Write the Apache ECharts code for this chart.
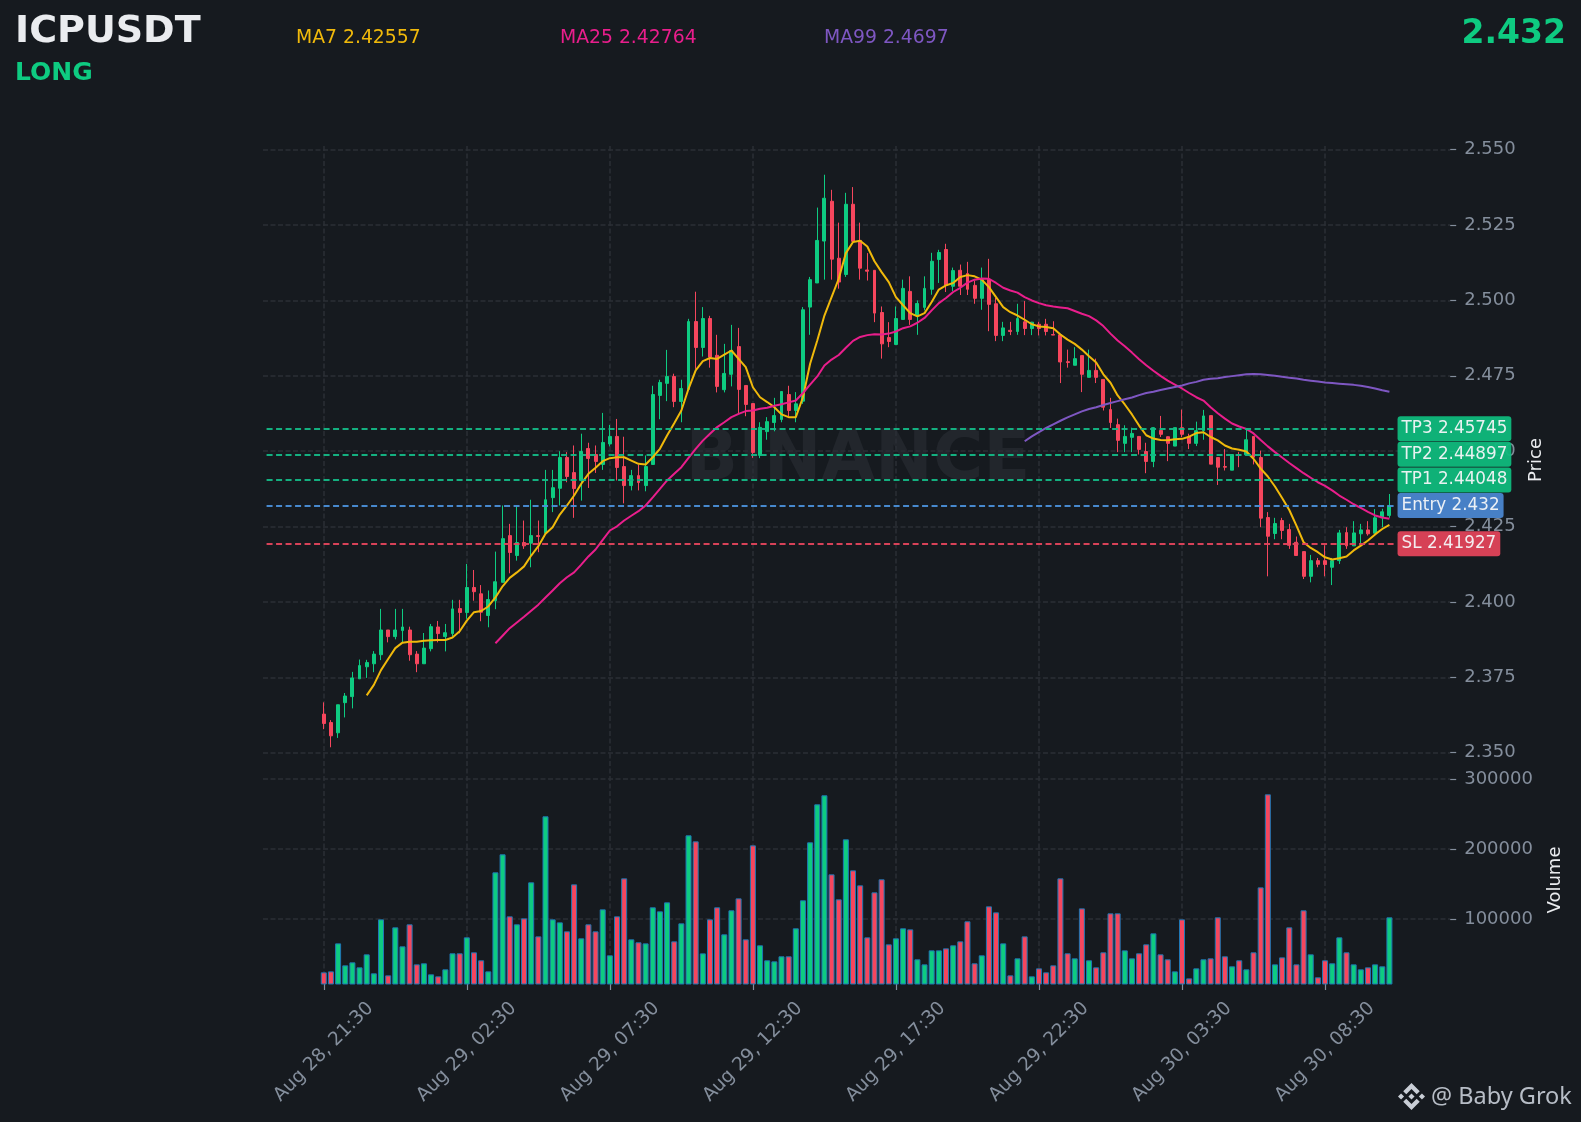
<!DOCTYPE html>
<html>
<head>
<meta charset="utf-8">
<style>html,body{margin:0;padding:0;background:#161a1f}#c{width:1581px;height:1122px}</style>
<script src="https://cdn.jsdelivr.net/npm/echarts@6/dist/echarts.min.js"></script>
</head>
<body>
<div id="c"></div>
<script>
const tickLabels = ["Aug 28, 21:30","Aug 29, 02:30","Aug 29, 07:30","Aug 29, 12:30","Aug 29, 17:30","Aug 29, 22:30","Aug 30, 03:30","Aug 30, 08:30"];
const opens = [2.3628,2.3600,2.3566,2.3666,2.3686,2.3745,2.3785,2.3795,2.3825,2.3907,2.3885,2.3905,2.3907,2.3827,2.3795,2.3845,2.3917,2.3885,2.3895,2.3978,2.3965,2.4048,2.4027,2.3955,2.4004,2.4065,2.4220,2.4154,2.4197,2.4195,2.4220,2.4228,2.4346,2.4377,2.4479,2.4429,
2.4403,2.4509,2.4489,2.4456,2.4524,2.4549,2.4449,2.4386,2.4419,2.4386,2.4456,2.4685,2.4725,2.4748,2.4665,2.4705,2.4930,2.4844,2.4940,2.4818,2.4704,2.4755,2.4847,2.4718,2.4658,2.4486,2.4565,2.4595,2.4605,2.4688,2.4635,2.4666,2.4978,2.5058,2.5197,2.5329,2.5140,2.5086,2.5319,2.5199,2.5101,2.5100,2.4960,2.4877,2.4854,2.4937,2.5030,2.4950,2.4977,2.5037,2.5136,2.5169,2.5047,2.5100,2.5089,2.5050,2.5007,2.5070,2.4989,2.4884,2.4901,2.4897,2.4929,2.4907,2.4921,2.4921,2.4887,2.4886,2.4797,2.4785,2.4817,2.4745,2.4768,2.4738,2.4638,2.4588,2.4526,2.4546,2.4549,2.4499,2.4466,2.4569,2.4548,2.4517,2.4578,2.4548,2.4526,2.4568,2.4618,2.4479,2.4449,2.4437,2.4489,2.4488,2.4549,2.4479,2.4280,2.4227,2.4270,2.4240,2.4198,2.4167,2.4085,2.4137,2.4137,2.4115,2.4137,2.4230,2.4186,2.4226,2.4239,2.4228,2.4279,2.4287];
const highs = [2.3667,2.3608,2.3659,2.3698,2.3768,2.3809,2.3808,2.3837,2.3977,2.3907,2.3977,2.3977,2.3918,2.3837,2.3897,2.3927,2.3937,2.3927,2.4007,2.4007,2.4126,2.4106,2.4056,2.4038,2.4167,2.4320,2.4259,2.4320,2.4270,2.4339,2.4270,2.4438,2.4438,2.4500,2.4497,2.4519,
2.4558,2.4528,2.4519,2.4627,2.4587,2.4607,2.4548,2.4438,2.4456,2.4486,2.4717,2.4737,2.4836,2.4757,2.4737,2.4939,2.5029,2.4978,2.4949,2.4886,2.4856,2.4919,2.4909,2.4718,2.4658,2.4596,2.4613,2.4677,2.4699,2.4717,2.4696,2.4978,2.5078,2.5308,2.5417,2.5367,2.5258,2.5357,2.5376,2.5258,2.5157,2.5100,2.4980,2.4928,2.4980,2.5069,2.5080,2.5000,2.5080,2.5158,2.5168,2.5188,2.5109,2.5119,2.5128,2.5066,2.5109,2.5138,2.5009,2.4929,2.4929,2.4989,2.4998,2.4929,2.4929,2.4939,2.4931,2.4886,2.4837,2.4845,2.4817,2.4837,2.4807,2.4738,2.4677,2.4608,2.4586,2.4578,2.4549,2.4528,2.4579,2.4617,2.4549,2.4578,2.4638,2.4558,2.4598,2.4637,2.4618,2.4479,2.4507,2.4489,2.4497,2.4571,2.4549,2.4502,2.4298,2.4279,2.4279,2.4259,2.4217,2.4167,2.4156,2.4146,2.4188,2.4146,2.4239,2.4248,2.4268,2.4259,2.4268,2.4308,2.4309,2.4358];
const lows = [2.3578,2.3518,2.3549,2.3617,2.3647,2.3745,2.3748,2.3767,2.3807,2.3866,2.3876,2.3866,2.3805,2.3767,2.3795,2.3836,2.3866,2.3836,2.3885,2.3896,2.3944,2.4004,2.3936,2.3916,2.3976,2.4065,2.4095,2.4137,2.4176,2.4115,2.4165,2.4226,2.4298,2.4320,2.4397,2.4279,
2.4336,2.4378,2.4428,2.4438,2.4516,2.4403,2.4327,2.4370,2.4370,2.4367,2.4456,2.4606,2.4666,2.4646,2.4596,2.4705,2.4773,2.4814,2.4777,2.4695,2.4695,2.4715,2.4624,2.4616,2.4478,2.4477,2.4538,2.4566,2.4596,2.4616,2.4596,2.4657,2.4886,2.5058,2.5069,2.5069,2.5039,2.5078,2.5192,2.5069,2.5066,2.4928,2.4807,2.4845,2.4854,2.4937,2.4919,2.4886,2.4967,2.5019,2.5058,2.5028,2.5031,2.5018,2.5018,2.4989,2.4969,2.4898,2.4865,2.4865,2.4885,2.4886,2.4885,2.4885,2.4884,2.4884,2.4885,2.4726,2.4777,2.4785,2.4696,2.4745,2.4726,2.4635,2.4577,2.4497,2.4497,2.4497,2.4489,2.4427,2.4447,2.4547,2.4467,2.4517,2.4547,2.4507,2.4517,2.4538,2.4457,2.4388,2.4436,2.4437,2.4447,2.4488,2.4456,2.4248,2.4085,2.4208,2.4208,2.4176,2.4154,2.4076,2.4065,2.4115,2.4085,2.4056,2.4126,2.4176,2.4186,2.4186,2.4220,2.4228,2.4248,2.4279];
const closes = [2.3597,2.3556,2.3659,2.3688,2.3748,2.3789,2.3799,2.3827,2.3907,2.3885,2.3907,2.3917,2.3825,2.3795,2.3847,2.3918,2.3895,2.3898,2.3977,2.3965,2.4048,2.4034,2.3966,2.4008,2.4067,2.4210,2.4164,2.4197,2.4186,2.4220,2.4217,2.4339,2.4379,2.4479,2.4416,2.4376,
2.4499,2.4476,2.4466,2.4529,2.4549,2.4446,2.4386,2.4419,2.4396,2.4449,2.4688,2.4728,2.4748,2.4665,2.4708,2.4930,2.4844,2.4940,2.4812,2.4715,2.4758,2.4834,2.4705,2.4655,2.4496,2.4579,2.4598,2.4618,2.4698,2.4635,2.4657,2.4969,2.5069,2.5199,2.5339,2.5137,2.5061,2.5319,2.5196,2.5107,2.5097,2.4958,2.4856,2.4864,2.4940,2.5040,2.4937,2.4990,2.5040,2.5130,2.5159,2.5050,2.5099,2.5047,2.5037,2.5007,2.5069,2.4987,2.4884,2.4909,2.4897,2.4940,2.4907,2.4928,2.4907,2.4897,2.4885,2.4796,2.4794,2.4807,2.4755,2.4768,2.4745,2.4646,2.4595,2.4536,2.4549,2.4559,2.4506,2.4466,2.4578,2.4556,2.4526,2.4578,2.4556,2.4526,2.4568,2.4617,2.4457,2.4447,2.4447,2.4489,2.4487,2.4538,2.4480,2.4278,2.4218,2.4260,2.4237,2.4188,2.4154,2.4085,2.4137,2.4125,2.4124,2.4137,2.4229,2.4186,2.4229,2.4239,2.4226,2.4279,2.4299,2.4320];
const volumes = [23800,25200,65200,33800,38100,30950,49500,22400,99500,19500,88100,60950,92400,35200,36700,20950,18100,28100,51000,51000,73800,52400,41000,25200,166700,192400,103800,92400,100950,152400,75200,246700,99500,95200,82400,149500,72400,92400,82400,113800,48100,103800,158100,70950,66700,65200,116700,110950,123800,68100,93800,219500,210900,50900,99500,116700,78100,112400,129500,70950,205200,62400,41000,39500,46700,46700,86700,126700,209500,263800,276700,163800,128100,213800,169500,148100,73800,138100,156700,63800,72400,86700,85200,42400,35200,55200,55200,58100,62400,68100,96700,36700,48100,118100,109500,65200,19500,43800,75200,18100,29500,23800,33800,158100,51000,43800,115200,41000,30950,52400,108100,108100,55200,43800,51000,63800,79500,49500,42400,25200,99500,15200,29500,42400,43800,102400,46700,32400,41000,28100,52400,145200,278100,35200,45200,88100,35200,112400,49500,16700,41000,36700,73800,52400,35200,28100,30950,35200,32400,102400];
const ma7 = [null,null,null,null,null,null,2.3690,2.3725,2.3774,2.3811,2.3847,2.3865,2.3868,2.3868,2.3871,2.3873,2.3874,2.3874,2.3882,2.3903,2.3938,2.3966,2.3970,2.3985,2.4015,2.4052,2.4080,2.4098,2.4118,2.4154,2.4185,2.4226,2.4248,2.4290,2.4320,2.4353,
2.4392,2.4425,2.4445,2.4467,2.4477,2.4480,2.4480,2.4469,2.4458,2.4456,2.4480,2.4508,2.4552,2.4593,2.4635,2.4707,2.4768,2.4799,2.4809,2.4806,2.4820,2.4834,2.4806,2.4779,2.4712,2.4679,2.4663,2.4646,2.4622,2.4613,2.4613,2.4679,2.4790,2.4867,2.4950,2.5011,2.5072,2.5157,2.5194,2.5198,2.5179,2.5130,2.5094,2.5061,2.5011,2.4984,2.4958,2.4947,2.4958,2.4995,2.5036,2.5050,2.5058,2.5078,2.5084,2.5080,2.5069,2.5044,2.5011,2.4978,2.4961,2.4950,2.4936,2.4921,2.4914,2.4912,2.4908,2.4887,2.4870,2.4856,2.4837,2.4815,2.4794,2.4755,2.4727,2.4685,2.4655,2.4622,2.4585,2.4553,2.4542,2.4537,2.4536,2.4540,2.4541,2.4548,2.4560,2.4563,2.4547,2.4536,2.4519,2.4509,2.4505,2.4499,2.4475,2.4442,2.4416,2.4383,2.4345,2.4305,2.4253,2.4198,2.4179,2.4165,2.4148,2.4141,2.4145,2.4151,2.4171,2.4187,2.4204,2.4224,2.4242,2.4256];
const ma25 = [null,null,null,null,null,null,null,null,null,null,null,null,null,null,null,null,null,null,null,null,null,null,null,null,2.3863,2.3888,2.3913,2.3932,2.3951,2.3971,2.3991,2.4015,2.4038,2.4062,2.4082,2.4098,
2.4124,2.4151,2.4174,2.4206,2.4237,2.4251,2.4270,2.4286,2.4301,2.4320,2.4347,2.4375,2.4403,2.4425,2.4447,2.4478,2.4508,2.4535,2.4558,2.4580,2.4596,2.4613,2.4624,2.4633,2.4635,2.4641,2.4644,2.4651,2.4656,2.4662,2.4668,2.4693,2.4721,2.4748,2.4784,2.4804,2.4819,2.4843,2.4866,2.4879,2.4885,2.4888,2.4887,2.4890,2.4897,2.4908,2.4914,2.4926,2.4942,2.4967,2.4991,2.5008,2.5028,2.5042,2.5059,2.5069,2.5073,2.5072,2.5058,2.5042,2.5033,2.5026,2.5011,2.5000,2.4991,2.4984,2.4980,2.4977,2.4974,2.4965,2.4956,2.4948,2.4934,2.4915,2.4890,2.4867,2.4848,2.4827,2.4805,2.4785,2.4767,2.4750,2.4734,2.4721,2.4708,2.4693,2.4679,2.4668,2.4646,2.4626,2.4608,2.4592,2.4582,2.4574,2.4559,2.4537,2.4516,2.4497,2.4479,2.4461,2.4444,2.4427,2.4412,2.4397,2.4385,2.4370,2.4353,2.4339,2.4324,2.4312,2.4299,2.4287,2.4280,2.4276];
const ma99Start = 98;
const ma99Values = [2.4533,2.4549,2.4563,2.4577,2.4589,2.4601,2.4612,2.4622,2.4632,2.4640,2.4646,2.4653,2.4660,2.4666,2.4672,2.4678,2.4686,2.4693,2.4697,2.4703,2.4708,2.4713,2.4718,2.4725,2.4730,2.4737,2.4740,2.4742,2.4746,2.4749,2.4752,2.4755,2.4756,2.4755,2.4753,2.4750,2.4747,2.4744,2.4741,2.4737,2.4734,2.4731,2.4728,2.4726,2.4724,2.4722,2.4720,2.4717,2.4713,2.4708,2.4702,2.4697];
const levelNames = ["TP3","TP2","TP1","Entry","SL"];
const levelValues = [2.45745,2.44897,2.44048,2.432,2.41927];

const UP='#0ecb81', DOWN='#f6465d', GRIDC='#2b2f36', TICKC='#848e9c';
const LEVEL_LINE=['#14b886','#14b886','#14b886','#4a8fd8','#e2455c'];
const LEVEL_BG=['#0fb97c','#0fb97c','#0fb97c','#4a86d0','#e0435a'];
const PAD_L=8, PAD_R=8;
const n=closes.length;
const pad=(a,blank)=>Array.from({length:PAD_L},blank).concat(a,Array.from({length:PAD_R},blank));
const categories=[];
for(let i=0;i<PAD_L+n+PAD_R;i++){const k=i-PAD_L;categories.push(k>=0&&k%20===0&&k/20<tickLabels.length?tickLabels[k/20]:'');}
const isTick=(i)=>{const k=i-PAD_L;return k>=0&&k%20===0&&k/20<tickLabels.length;};
const candle=pad(opens.map((o,i)=>[o,closes[i],lows[i],highs[i]]),()=>[NaN,NaN,NaN,NaN]);
const vol=pad(volumes.map((v,i)=>({value:v,itemStyle:{color:closes[i]>=opens[i]?UP:DOWN}})),()=>null);
const ma99=Array(ma99Start).fill(null).concat(ma99Values);

const L=263,R=1581-1450.2;
const dashed={type:[5,2.5],color:GRIDC,width:1.5};
const markData=levelValues.map((v,i)=>[
 {xAxis:0,yAxis:v,lineStyle:{color:LEVEL_LINE[i],type:[6,3.5],width:1.9,opacity:.95},
  label:{show:true,position:'end',distance:1,formatter:levelNames[i]+' '+v,color:'#f4f6f8',fontSize:16.8,fontFamily:'DejaVu Sans',backgroundColor:LEVEL_BG[i],padding:[4,4,4,4],borderRadius:3}},
 {xAxis:PAD_L+n+PAD_R-8,yAxis:v}
]);
const lineS=(name,d,c)=>({name,type:'line',xAxisIndex:0,yAxisIndex:0,data:pad(d,()=>null),symbol:'none',showSymbol:false,connectNulls:false,lineStyle:{color:c,width:2},z:4,silent:true,animation:false});
const logoParts=[
 [[11.99,0],[19.34,7.34],[16.62,10.06],[11.99,5.42],[7.35,10.08],[4.64,7.36]],
 [[16.62,13.92],[19.34,16.64],[11.99,23.99],[4.64,16.64],[7.35,13.92],[11.99,18.58]],
 [[2.72,9.28],[5.41,12],[2.72,14.69],[0,12]],
 [[21.26,9.28],[24,12],[21.28,14.72],[18.57,12]],
 [[11.99,9.28],[14.7,12],[11.99,14.72],[9.27,12]]
];
const chart=echarts.init(document.getElementById('c'),null,{renderer:'canvas',width:1581,height:1122});
const FF='DejaVu Sans';
chart.setOption({
 animation:false,backgroundColor:'#161a1f',
 textStyle:{fontFamily:FF},
 grid:[{left:L,right:R,top:149.7,height:603},
       {left:L,right:R,top:779,height:205},
       {left:L,right:R,top:146,height:838}],
 xAxis:[
  {type:'category',gridIndex:0,data:categories,show:false},
  {type:'category',gridIndex:1,data:categories,show:false},
  {type:'category',gridIndex:2,data:categories,
   axisLine:{show:false},
   axisTick:{show:true,alignWithLabel:true,interval:isTick,length:6,lineStyle:{color:TICKC,width:1.2}},
   splitLine:{show:true,alignWithLabel:true,interval:isTick,lineStyle:dashed},
   axisLabel:{show:true,interval:isTick,rotate:45,align:'center',verticalAlign:'middle',margin:68,color:TICKC,fontSize:18.7,fontFamily:FF}}
 ],
 yAxis:[
  {type:'value',gridIndex:0,position:'right',min:2.35,max:2.55,interval:0.025,
   axisLine:{show:false},axisTick:{show:true,length:6,lineStyle:{color:TICKC,width:1.2}},
   splitLine:{show:true,lineStyle:dashed},
   axisLabel:{margin:14,padding:[4,0,0,0],color:TICKC,fontSize:18,fontFamily:FF,formatter:(v)=>v.toFixed(3)}},
  {type:'value',gridIndex:1,position:'right',min:7143,max:300000,
   axisLine:{show:false},axisTick:{show:true,length:6,customValues:[100000,200000,300000],lineStyle:{color:TICKC,width:1.2}},
   splitLine:{show:true,lineStyle:dashed},
   axisLabel:{margin:14,padding:[4,0,0,0],color:TICKC,fontSize:18,fontFamily:FF,customValues:[100000,200000,300000],formatter:(v)=>String(v)}},
  {type:'value',gridIndex:2,show:false,min:0,max:1}
 ],
 graphic:[
  {type:'text',z:-5,x:858,y:461,style:{text:'BINANCE',font:'bold 69px "DejaVu Sans"',fill:'#22262c',align:'center',verticalAlign:'middle'}},
  {type:'text',x:15,y:32,style:{text:'ICPUSDT',font:'bold 38px "DejaVu Sans"',fill:'#eaecef',align:'left',verticalAlign:'middle'}},
  {type:'text',x:15,y:73,style:{text:'LONG',font:'bold 25px "DejaVu Sans"',fill:UP,align:'left',verticalAlign:'middle'}},
  {type:'text',x:296,y:38,style:{text:'MA7 2.42557',font:'18.8px "DejaVu Sans"',fill:'#f0b90b',align:'left',verticalAlign:'middle'}},
  {type:'text',x:560,y:38,style:{text:'MA25 2.42764',font:'18.8px "DejaVu Sans"',fill:'#e91e8c',align:'left',verticalAlign:'middle'}},
  {type:'text',x:824,y:38,style:{text:'MA99 2.4697',font:'18.8px "DejaVu Sans"',fill:'#7e57c2',align:'left',verticalAlign:'middle'}},
  {type:'text',x:1566,y:34,style:{text:'2.432',font:'bold 33px "DejaVu Sans"',fill:UP,align:'right',verticalAlign:'middle'}},
  {type:'text',x:1536,y:460,rotation:Math.PI/2,style:{text:'Price',font:'18px "DejaVu Sans"',fill:'#eaecef',align:'center',verticalAlign:'middle'}},
  {type:'text',x:1555,y:880,rotation:Math.PI/2,style:{text:'Volume',font:'18px "DejaVu Sans"',fill:'#eaecef',align:'center',verticalAlign:'middle'}},
  {type:'group',x:1398,y:1083,scaleX:1.125,scaleY:1.125,children:logoParts.map(p=>({type:'polygon',shape:{points:p},style:{fill:'#c9ced6'}}))},
  {type:'text',x:1431,y:1097,style:{text:'@ Baby Grok',font:'23.5px "Noto Sans"',fill:'#b7bdc6',align:'left',verticalAlign:'middle'}}
 ],
 series:[
  {name:'Candles',type:'candlestick',xAxisIndex:0,yAxisIndex:0,data:candle,barWidth:3.4,silent:true,
   itemStyle:{color:UP,color0:DOWN,borderColor:UP,borderColor0:DOWN,borderWidth:1},
   markLine:{symbol:'none',silent:true,animation:false,data:markData,z:6}},
  lineS('MA7',ma7,'#f0b90b'),lineS('MA25',ma25,'#e91e8c'),lineS('MA99',ma99,'#7e57c2'),
  {name:'Volume',type:'bar',xAxisIndex:1,yAxisIndex:1,data:vol,barWidth:6,silent:true,itemStyle:{borderColor:'#1f77b4',borderWidth:1}},
  {name:'Frame',type:'line',xAxisIndex:2,yAxisIndex:2,data:[],silent:true}
 ]
});
</script>
</body>
</html>
